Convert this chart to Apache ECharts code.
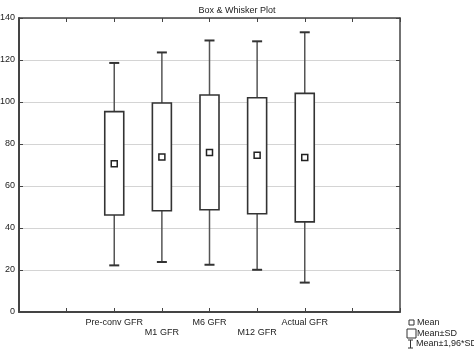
<!DOCTYPE html>
<html><head><meta charset="utf-8">
<script src="https://cdn.jsdelivr.net/npm/echarts@6/dist/echarts.min.js"></script>
<style>html,body{margin:0;padding:0;background:#fff}#c{width:474px;height:353px}</style>
</head><body><div id="c"></div>
<script>
const categories = ['Pre-conv GFR', 'M1 GFR', 'M6 GFR', 'M12 GFR', 'Actual GFR'];
const positions = [2, 3, 4, 5, 6];
const whiskerLow = [22.2, 23.8, 22.5, 20.1, 14.0];
const boxLow = [46.2, 48.2, 48.7, 46.8, 42.9];
const means = [70.6, 73.8, 75.9, 74.6, 73.6];
const boxHigh = [95.4, 99.5, 103.3, 102.0, 104.1];
const whiskerHigh = [118.6, 123.6, 129.3, 128.9, 133.2];
const yTicks = [0, 20, 40, 60, 80, 100, 120, 140];

const font = 'Liberation Sans, Arial, sans-serif';
const boxData = positions.map((p, i) => [p, whiskerLow[i], boxLow[i], boxHigh[i], whiskerHigh[i]]);
const meanData = positions.map((p, i) => [p, means[i]]);

const chart = echarts.init(document.getElementById('c'), null, {renderer: 'canvas'});
chart.setOption({
  animation: false,
  backgroundColor: '#fff',
  title: {text: 'Box & Whisker Plot', left: 'center', top: 1,
    textStyle: {fontFamily: font, fontSize: 9, fontWeight: 'normal', color: '#222'}},
  grid: {left: 19, right: 74, top: 18, bottom: 41, containLabel: false, outerBoundsMode: 'none'},
  xAxis: [{
    type: 'value', min: 0, max: 8, interval: 1, position: 'bottom',
    axisLine: {onZero: false, lineStyle: {color: '#444', width: 2}},
    axisTick: {inside: true, length: 4, lineStyle: {color: '#444'}},
    splitLine: {show: false},
    axisLabel: {
      margin: 6, fontFamily: font, fontSize: 9, color: '#222', lineHeight: 10,
      formatter: v => { const i = positions.indexOf(v); if (i < 0) return ''; return i % 2 ? '\n' + categories[i] : categories[i]; }
    }
  }, {
    type: 'value', min: 0, max: 8, interval: 1, position: 'top',
    axisLine: {show: true, onZero: false, lineStyle: {color: '#444', width: 1.5}},
    axisTick: {show: true, inside: true, length: 4, lineStyle: {color: '#444'}},
    axisLabel: {show: false}, splitLine: {show: false}
  }],
  yAxis: [{
    type: 'value', min: yTicks[0], max: yTicks[yTicks.length - 1], interval: 20,
    axisLine: {show: true, onZero: false, lineStyle: {color: '#444', width: 2}},
    axisTick: {show: true, inside: true, length: 4, lineStyle: {color: '#444'}},
    axisLabel: {margin: 4, fontFamily: font, fontSize: 9, color: '#222'},
    splitLine: {show: true, lineStyle: {color: '#d4d4d4', width: 1}}
  }, {
    type: 'value', min: yTicks[0], max: yTicks[yTicks.length - 1], interval: 20, position: 'right',
    axisLine: {show: true, onZero: false, lineStyle: {color: '#444', width: 1.5}},
    axisTick: {show: true, inside: true, length: 4, lineStyle: {color: '#444'}},
    axisLabel: {show: false}, splitLine: {show: false}
  }],
  series: [{
    type: 'custom', name: 'Mean±SD', xAxisIndex: 0, yAxisIndex: 0, z: 2,
    data: boxData,
    renderItem: function (params, api) {
      const x = api.value(0);
      const pWL = api.coord([x, api.value(1)]);
      const pBL = api.coord([x, api.value(2)]);
      const pBH = api.coord([x, api.value(3)]);
      const pWH = api.coord([x, api.value(4)]);
      const cx = pWL[0];
      const bw = 19, cw = 10;
      const wStyle = {stroke: '#555', lineWidth: 1.5};
      const cStyle = {stroke: '#333', lineWidth: 2};
      return {type: 'group', children: [
        {type: 'line', shape: {x1: cx, y1: pWL[1], x2: cx, y2: pBL[1]}, style: wStyle},
        {type: 'line', shape: {x1: cx, y1: pBH[1], x2: cx, y2: pWH[1]}, style: wStyle},
        {type: 'line', shape: {x1: cx - cw / 2, y1: pWL[1], x2: cx + cw / 2, y2: pWL[1]}, style: cStyle},
        {type: 'line', shape: {x1: cx - cw / 2, y1: pWH[1], x2: cx + cw / 2, y2: pWH[1]}, style: cStyle},
        {type: 'rect', shape: {x: cx - bw / 2, y: pBH[1], width: bw, height: pBL[1] - pBH[1]},
          style: {fill: '#fff', stroke: '#333', lineWidth: 1.6}}
      ]};
    }
  }, {
    type: 'scatter', name: 'Mean', xAxisIndex: 0, yAxisIndex: 0, z: 5,
    data: meanData, symbol: 'rect', symbolSize: 6,
    itemStyle: {color: '#fff', borderColor: '#222', borderWidth: 1.5, opacity: 1}
  }],
  graphic: [
    {type: 'rect', shape: {x: 409, y: 320, width: 5, height: 5}, style: {fill: '#fff', stroke: '#333', lineWidth: 1}},
    {type: 'text', x: 417, y: 322.5, style: {text: 'Mean', fontFamily: font, fontSize: 9, fill: '#222', verticalAlign: 'middle'}},
    {type: 'rect', shape: {x: 407, y: 329, width: 9, height: 9}, style: {fill: '#fff', stroke: '#333', lineWidth: 1}},
    {type: 'text', x: 417, y: 333.5, style: {text: 'Mean±SD', fontFamily: font, fontSize: 9, fill: '#222', verticalAlign: 'middle'}},
    {type: 'polyline', shape: {points: [[408, 340], [413, 340]]}, style: {stroke: '#333', lineWidth: 1}},
    {type: 'polyline', shape: {points: [[410.5, 340], [410.5, 348]]}, style: {stroke: '#333', lineWidth: 1}},
    {type: 'polyline', shape: {points: [[408, 348], [413, 348]]}, style: {stroke: '#333', lineWidth: 1}},
    {type: 'text', x: 416, y: 344, style: {text: 'Mean±1,96*SD', fontFamily: font, fontSize: 9, fill: '#222', verticalAlign: 'middle'}}
  ]
});
</script>
</body></html>
